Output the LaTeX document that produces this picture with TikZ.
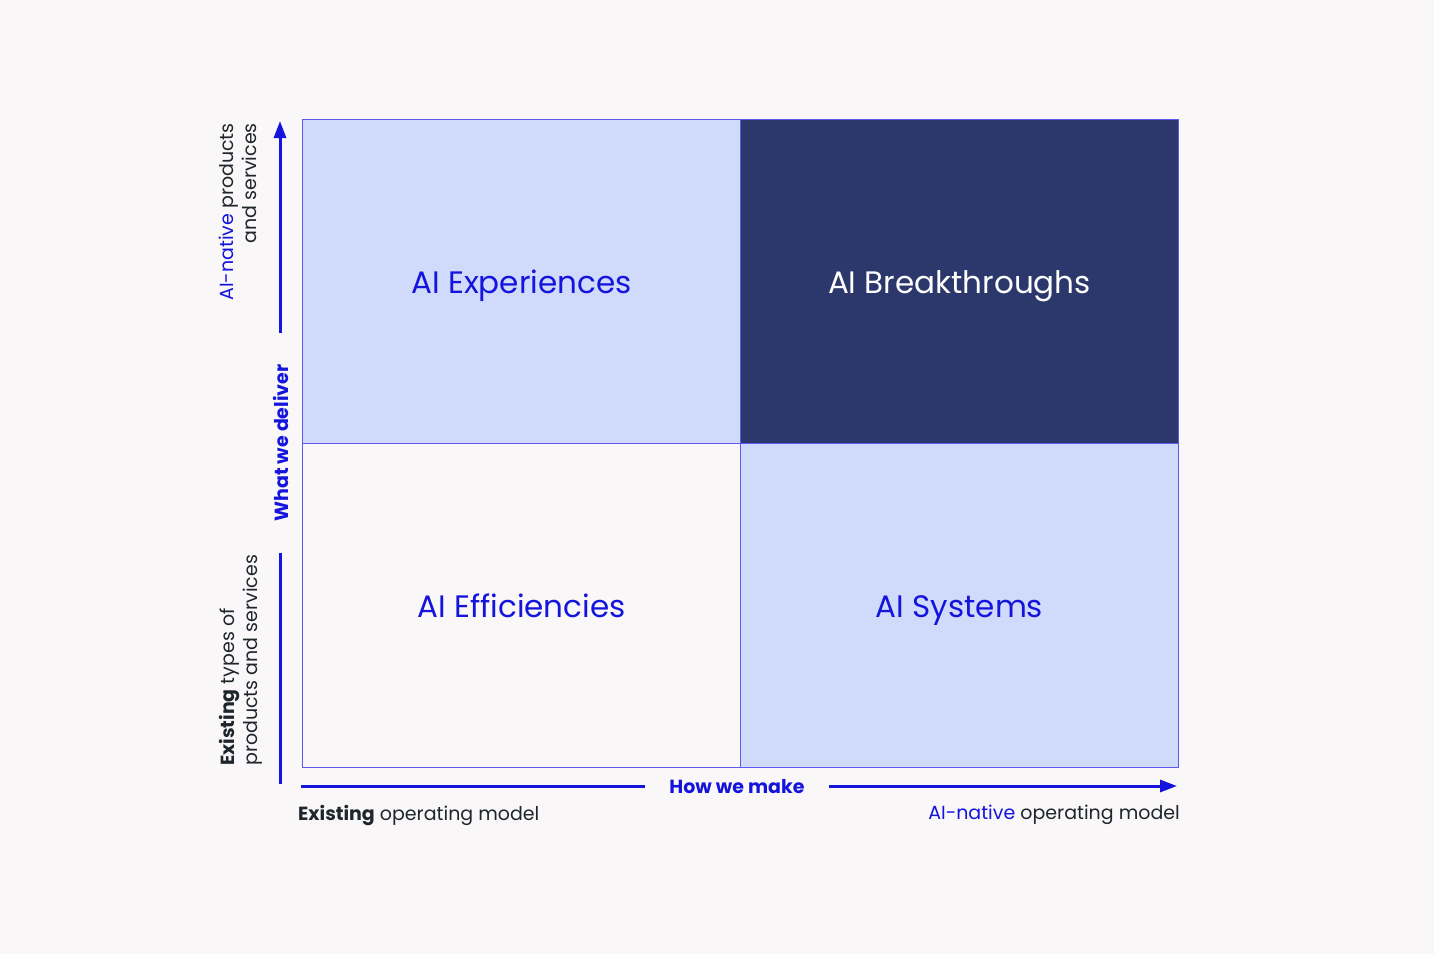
\documentclass[tikz,border=0pt]{standalone}
\usepackage{fontspec}
\setmainfont{Poppins}
\usetikzlibrary{arrows.meta}
\definecolor{bg}{HTML}{F9F7F8}
\definecolor{lightq}{HTML}{D0DAFB}
\definecolor{darkq}{HTML}{2C376B}
\definecolor{edge}{HTML}{5A5AF0}
\definecolor{ink}{HTML}{1414DC}
\definecolor{txt}{HTML}{1E262C}
\tikzset{
  quad/.style={draw=edge, line width=1.2pt, inner sep=0pt, minimum width=437.5pt, minimum height=323.5pt},
  qlabel/.style={anchor=base, yshift=-12pt, font=\fontsize{31}{36}\selectfont},
  axis/.style={draw=ink, line width=3pt},
  tip/.style={-{Triangle[length=17pt,width=12pt]}},
  side/.style={font=\fontsize{19}{23}\selectfont, text=txt, inner sep=0pt},
  axislabel/.style={font=\fontsize{19}{23}\selectfont\bfseries, text=ink, inner sep=0pt},
}
\begin{document}
\begin{tikzpicture}[x=1pt,y=-1pt]
  \useasboundingbox[fill=bg] (0,0) rectangle (1434,954);
  % the four quadrants
  \foreach \n/\x/\y/\f/\c/\t in {exp/521.5/281.5/lightq/ink/AI Experiences,
      brk/959.5/281.5/darkq/white/AI Breakthroughs,
      eff/521.5/605.5/bg/ink/AI Efficiencies,
      sys/959.5/605.5/lightq/ink/AI Systems}{
    \node[quad, fill=\f](\n) at (\x,\y){};
    \node[qlabel, text=\c](\n-label) at (\n){\t};
  }
  % vertical axis
  \node[axislabel, rotate=90](deliver) at (281,443){What we deliver};
  \coordinate (vtop) at (280,121);
  \coordinate (vup) at (280,333);
  \coordinate (vdown) at (280,553);
  \coordinate (vbot) at (280,784);
  \draw[axis, tip](vup)--(vtop);
  \draw[axis](vdown)--(vbot);
  \node[side, rotate=90, align=right, anchor=north east](native) at (219,123){\textcolor{ink}{AI-native} products\\and services};
  \node[side, rotate=90, align=left, anchor=north west](existing) at (219,766){\textbf{Existing} types of\\products and services};
  % horizontal axis
  \node[axislabel](make) at (737,787){How we make};
  \coordinate (hleft) at (301,786);
  \coordinate (hin) at (645,786);
  \coordinate (hout) at (829,786);
  \coordinate (hright) at (1177,786);
  \draw[axis](hleft)--(hin);
  \draw[axis, tip](hout)--(hright);
  \node[side, anchor=west](oldmodel) at (298,815){\textbf{Existing} operating model};
  \node[side, anchor=east](newmodel) at (1180,815){\textcolor{ink}{AI-native} operating model};
\end{tikzpicture}
\end{document}
